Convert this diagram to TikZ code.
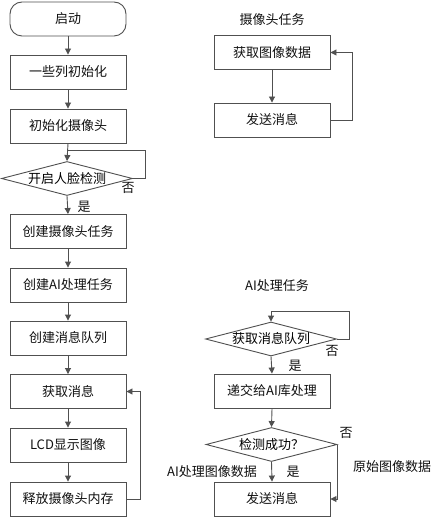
\documentclass[tikz,border=0pt]{standalone}
\usepackage{fontspec}
\usepackage{xcolor}
\usepackage{tikz}
\usetikzlibrary{calc,arrows.meta,positioning,shapes.geometric}
\setmainfont{Noto Sans CJK SC}
\definecolor{linec}{HTML}{505050}
\definecolor{textc}{HTML}{111111}
\tikzset{
  ar/.style={-{Triangle[length=6pt,width=6pt]},linec,line width=0.9pt},
  ln/.style={linec,line width=0.9pt},
  box/.style={draw=linec,line width=0.9pt,fill=white,minimum width=116pt,minimum height=34pt,inner sep=0pt,text=textc},
  dec/.style={diamond,draw=linec,line width=0.9pt,fill=white,minimum width=131pt,minimum height=34pt,inner sep=0pt,text=textc},
  lab/.style={text=textc,inner sep=1pt}
}

\begin{document}
\begin{tikzpicture}[x=1pt,y=-1pt,font=\fontsize{13}{15}\selectfont]
\useasboundingbox (0,0) rectangle (442,518);
% main flow
\node[box,rounded corners=12pt] (start) at (68,19) {启动};
\node[box] (init) at (68,72) {一些列初始化};
\node[box] (cam) at (68,126) {初始化摄像头};
\node[dec,label={center:开启人脸检测}] (face) at (67,178.5) {};
\node[box] (camtask) at (68,231.5) {创建摄像头任务};
\node[box] (aitask) at (68,285) {创建AI处理任务};
\node[box] (queue) at (68,338) {创建消息队列};
\node[box] (getmsg) at (68,391.5) {获取消息};
\node[box] (lcd) at (68,445) {LCD显示图像};
\node[box] (free) at (68,499) {释放摄像头内存};
\coordinate (j1) at (67,150);
\draw[ar] (start) -- (init);
\draw[ar] (init) -- (cam);
\draw[ar] (cam.south) -- (face.north);
\draw[ln] (face.east) -- ++(12,0) |- (j1);
\draw[ar] (face.south) -- (camtask.north);
\draw[ar] (camtask) -- (aitask);
\draw[ar] (aitask) -- (queue);
\draw[ar] (queue) -- (getmsg);
\draw[ar] (getmsg) -- (lcd);
\draw[ar] (lcd) -- (free);
\draw[ar] (free.east) -- ++(14,0) |- (getmsg.east);
\node[lab] (no1) at (128,188) {否};
\node[lab] (yes1) at (84,207) {是};
% camera task
\node[lab] (t1) at (272,20) {摄像头任务};
\node[box] (getimg) at (272,52.5) {获取图像数据};
\node[box] (send1) at (272,120) {发送消息};
\draw[ar] (getimg) -- (send1);
\draw[ar] (send1.east) -- ++(22,0) |- (getimg.east);
% ai task
\node[lab] (t2) at (277,286) {AI处理任务};
\node[dec,label={center:获取消息队列}] (wait) at (271,339) {};
\node[box] (proc) at (272,391) {递交给AI库处理};
\node[dec,label={center:检测成功？}] (ok) at (271.5,444.5) {};
\node[box] (send2) at (272,499) {发送消息};
\coordinate (j2) at (271,311);
\draw[ar] (j2) -- (wait.north);
\draw[ln] (wait.east) -- ++(12,0) |- (j2);
\draw[ar] (wait.south) -- (proc.north);
\draw[ar] (proc.south) -- (ok.north);
\draw[ar] (ok.south) -- (send2.north);
\draw[ar] (ok.east) |- (send2.east);
\node[lab] (no2) at (332,351) {否};
\node[lab] (yes2) at (295,366) {是};
\node[lab] (no3) at (346,433) {否};
\node[lab] (yes3) at (293,472) {是};
\node[lab] (aiimg) at (212,472) {AI处理图像数据};
\node[lab] (rawimg) at (392,467) {原始图像数据};
\end{tikzpicture}
\end{document}
